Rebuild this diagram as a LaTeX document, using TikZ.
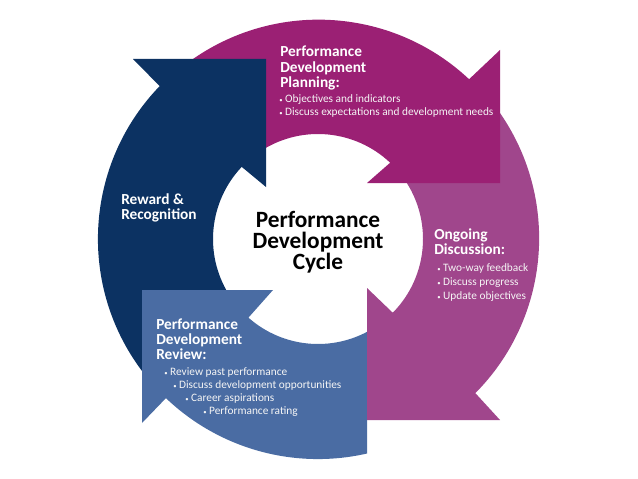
\documentclass[tikz,border=0pt]{standalone}
\usepackage{fontspec}
\setmainfont{Carlito}
\usetikzlibrary{calc}
\newcommand{\bul}{{\tiny\textbullet}\ }
\begin{document}
\begin{tikzpicture}[x=0.75pt,y=-0.75pt,
  hd/.style={font=\bfseries\fontsize{11.5}{12}\selectfont, text=white, anchor=base west, inner sep=0pt},
  bl/.style={font=\fontsize{8.5}{9}\selectfont, text=white!92!gray, anchor=base west, inner sep=0pt},
  ttl/.style={font=\bfseries\fontsize{17.5}{18}\selectfont, text=black, anchor=base, inner sep=0pt}]
\definecolor{navy}{RGB}{12,50,98}
\definecolor{mag}{RGB}{155,32,116}
\definecolor{lmag}{RGB}{160,70,140}
\definecolor{rblue}{RGB}{74,108,163}
\useasboundingbox (0,0) rectangle (638,478);
\coordinate (C) at (318,239);
% bodies
\fill[navy] (142,371) arc[start angle=143.1, end angle=226, radius=220]
  -- ($(C)+(225.4:105)$) arc[start angle=225.4, end angle=150.9, radius=105] -- (142,290) -- cycle;
\fill[mag] (193,59) arc[start angle=-124.8, end angle=-44.6, radius=220]
  -- ($(C)+(-44.6:105)$) arc[start angle=-44.6, end angle=-119.7, radius=105] -- (266,59) -- cycle;
\fill[lmag] (500,113) arc[start angle=-34.7, end angle=46.4, radius=220]
  -- ($(C)+(46.6:105)$) arc[start angle=46.6, end angle=-32.2, radius=105] -- (500,183) -- cycle;
\fill[rblue] (367,453.5) arc[start angle=77.1, end angle=135.7, radius=220]
  -- ($(C)+(133.5:105)$) arc[start angle=133.5, end angle=62, radius=105] -- cycle;
% heads
\fill[navy] ($(C)+(-136:220)$) -- (133,59) -- (266,59) -- (266,187) -- ($(C)+(-136.6:105)$) -- cycle;
\fill[mag] ($(C)+(-46.6:220)$) -- (500,50) -- (500,183) -- (367,183) -- ($(C)+(-46.6:105)$) -- cycle;
\fill[lmag] ($(C)+(44.4:220)$) -- (500,420) -- (367,420) -- (367,288) -- ($(C)+(44.6:105)$) -- cycle;
\fill[rblue] ($(C)+(133.7:220)$) -- (142,423) -- (142,290) -- (273,290) -- ($(C)+(131.5:105)$) -- cycle;
% title
\node[ttl] (t1) at (318,227) {Performance};
\node[ttl] (t2) at (318,248) {Development};
\node[ttl] (t3) at (318,269) {Cycle};
% planning
\node[hd] (p1) at (280,57) {Performance};
\node[hd] (p2) at (280,72) {Development};
\node[hd] (p3) at (280,87) {Planning:};
\node[bl] (p4) at (279,102) {\bul Objectives and indicators};
\node[bl] (p5) at (279,115) {\bul Discuss expectations and development needs};
% reward
\node[hd] (r1) at (121,204) {Reward \&};
\node[hd] (r2) at (121,219) {Recognition};
% ongoing
\node[hd] (o1) at (434,239) {Ongoing};
\node[hd] (o2) at (434,254) {Discussion:};
\node[bl] (o3) at (437,271) {\bul Two-way feedback};
\node[bl] (o4) at (437,285) {\bul Discuss progress};
\node[bl] (o5) at (437,299) {\bul Update objectives};
% review
\node[hd] (v1) at (156,329) {Performance};
\node[hd] (v2) at (156,344) {Development};
\node[hd] (v3) at (156,359) {Review:};
\node[bl] (v4) at (164,375) {\bul Review past performance};
\node[bl] (v5) at (173,388) {\bul Discuss development opportunities};
\node[bl] (v6) at (185,401) {\bul Career aspirations};
\node[bl] (v7) at (203,414) {\bul Performance rating};
\end{tikzpicture}
\end{document}
